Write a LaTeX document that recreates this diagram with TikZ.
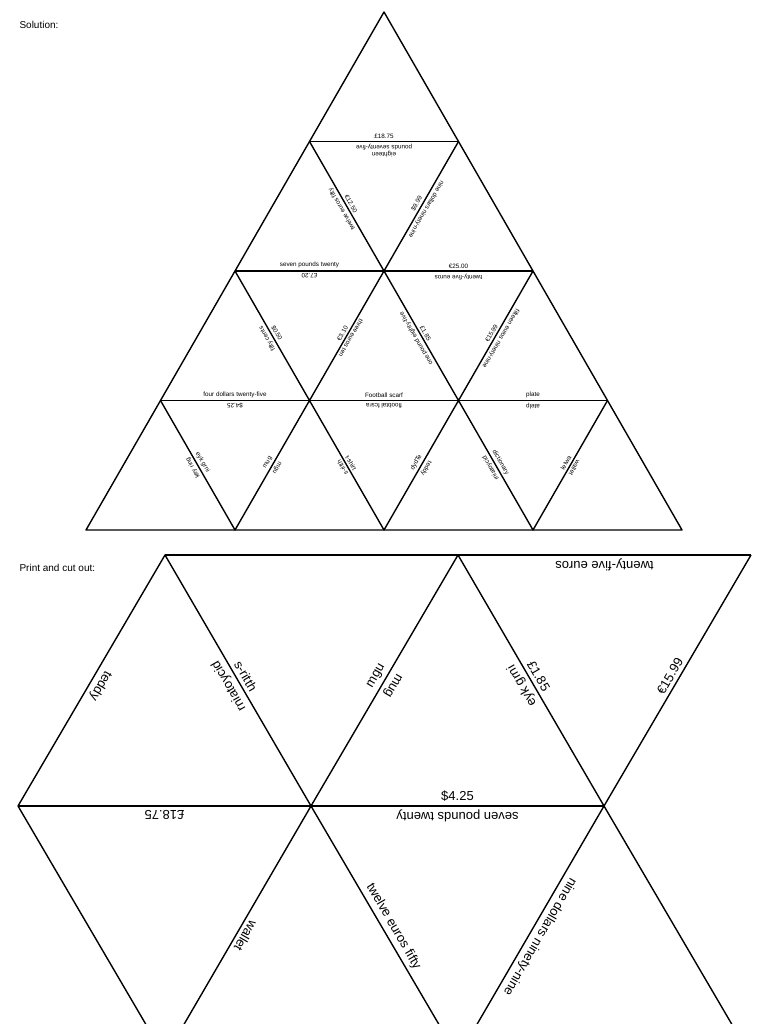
\documentclass[tikz,border=0pt]{standalone}
\usepackage{fontspec}
\setmainfont{Liberation Sans}
\usetikzlibrary{calc}

\tikzset{
  tri/.style={line width=1.4pt, line join=round},
  lbl/.style={anchor=south, inner sep=2.5pt, font=\fontsize{6.3}{7}\selectfont, align=center},
  big/.style={anchor=south, inner sep=4pt, font=\fontsize{13}{15}\selectfont}
}
% text along an edge, facing its own triangle
\newcommand{\etxt}[5][lbl]{\node[#1, rotate=#4] at ($(#2)!.5!(#3)$) {#5};}

\begin{document}
\begin{tikzpicture}[x=1pt, y=-1pt]
\useasboundingbox (0,0) rectangle (768,1024);
\clip (0,0) rectangle (768,1024);

\node[anchor=west, font=\fontsize{10}{12}\selectfont] (sol) at (16,25) {Solution:};
\node[anchor=west, font=\fontsize{10}{12}\selectfont] (cut) at (16,568) {Print and cut out:};

% solution grid
\foreach \r in {0,...,4}
  \foreach \j in {0,...,\r}
    \coordinate (s\r\j) at ({384-74.5*\r+149*\j},{12+129.5*\r});

\draw[tri] (s00) -- (s40) -- (s44) -- cycle;
\draw[tri] (s10) -- (s11);
\draw[tri] (s20) -- (s22);
\draw[tri] (s30) -- (s33);
\draw[tri] (s10) -- (s21) -- (s11);
\draw[tri] (s20) -- (s31) -- (s21) -- (s32) -- (s22);
\draw[tri] (s30) -- (s41) -- (s31) -- (s42) -- (s32) -- (s43) -- (s33);

\etxt{s10}{s11}{0}{£18.75}
\etxt{s10}{s11}{180}{eighteen\\pounds seventy-five}
\etxt{s10}{s21}{120}{twelve euros fifty}
\etxt{s10}{s21}{-60}{€12.50}
\etxt{s11}{s21}{60}{\$9.99}
\etxt{s11}{s21}{-120}{nine dollars ninety-nine}
\etxt{s20}{s21}{0}{seven pounds twenty}
\etxt{s20}{s21}{180}{£7.20}
\etxt{s21}{s22}{0}{€25.00}
\etxt{s21}{s22}{180}{twenty-five euros}
\etxt{s20}{s31}{120}{fifty cents}
\etxt{s20}{s31}{-60}{\$0.50}
\etxt{s21}{s31}{60}{€3.10}
\etxt{s21}{s31}{-120}{three euros ten}
\etxt{s21}{s32}{120}{one pound eighty-five}
\etxt{s21}{s32}{-60}{£1.85}
\etxt{s22}{s32}{60}{€15.99}
\etxt{s22}{s32}{-120}{fifteen euros ninety-nine}
\etxt{s30}{s31}{0}{four dollars twenty-five}
\etxt{s30}{s31}{180}{\$4.25}
\etxt{s31}{s32}{0}{Football scarf}
\etxt{s31}{s32}{180}{floobtal fcsra}
\etxt{s32}{s33}{0}{plate}
\etxt{s32}{s33}{180}{atelp}
\etxt{s30}{s41}{120}{key ring}
\etxt{s30}{s41}{-60}{eyk grni}
\etxt{s31}{s41}{60}{mug}
\etxt{s31}{s41}{-120}{mgu}
\etxt{s31}{s42}{120}{s-ritth}
\etxt{s31}{s42}{-60}{t-shirt}
\etxt{s32}{s42}{60}{dydTe}
\etxt{s32}{s42}{-120}{teddy}
\etxt{s32}{s43}{120}{rniatoycid}
\etxt{s32}{s43}{-60}{dictionary}
\etxt{s33}{s43}{60}{letwa}
\etxt{s33}{s43}{-120}{wallet}

% cut-out pieces
\foreach \j in {0,1,2} {
  \coordinate (b0\j) at ({165+293*\j},555);
  \coordinate (b1\j) at ({18+293*\j},806);
  \coordinate (b2\j) at ({165+293*\j},1057);
}
\draw[tri] (b00) -- (b02);
\draw[tri] (b10) -- (b12);
\draw[tri] (b10) -- (b00) -- (b11) -- (b01) -- (b12) -- (b02);
\draw[tri] (b10) -- (b20) -- (b11) -- (b21) -- (b12) -- (b22);

\etxt[big]{b00}{b10}{-120}{teddy}
\etxt[big]{b00}{b11}{120}{rniatoycid}
\etxt[big]{b00}{b11}{-60}{s-ritth}
\etxt[big]{b01}{b11}{60}{mgu}
\etxt[big]{b01}{b11}{-120}{mug}
\etxt[big]{b01}{b12}{120}{eyk grni}
\etxt[big]{b01}{b12}{-60}{£1.85}
\etxt[big]{b02}{b12}{60}{€15.99}
\etxt[big]{b01}{b02}{180}{twenty-five euros}
\etxt[big]{b11}{b12}{0}{\$4.25}
\etxt[big]{b10}{b11}{180}{£18.75}
\etxt[big]{b11}{b12}{180}{seven pounds twenty}
\etxt[big]{b11}{b20}{-120}{wallet}
\etxt[big]{b11}{b21}{-60}{twelve euros fifty}
\etxt[big]{b12}{b21}{-120}{nine dollars ninety-nine}
\end{tikzpicture}
\end{document}
